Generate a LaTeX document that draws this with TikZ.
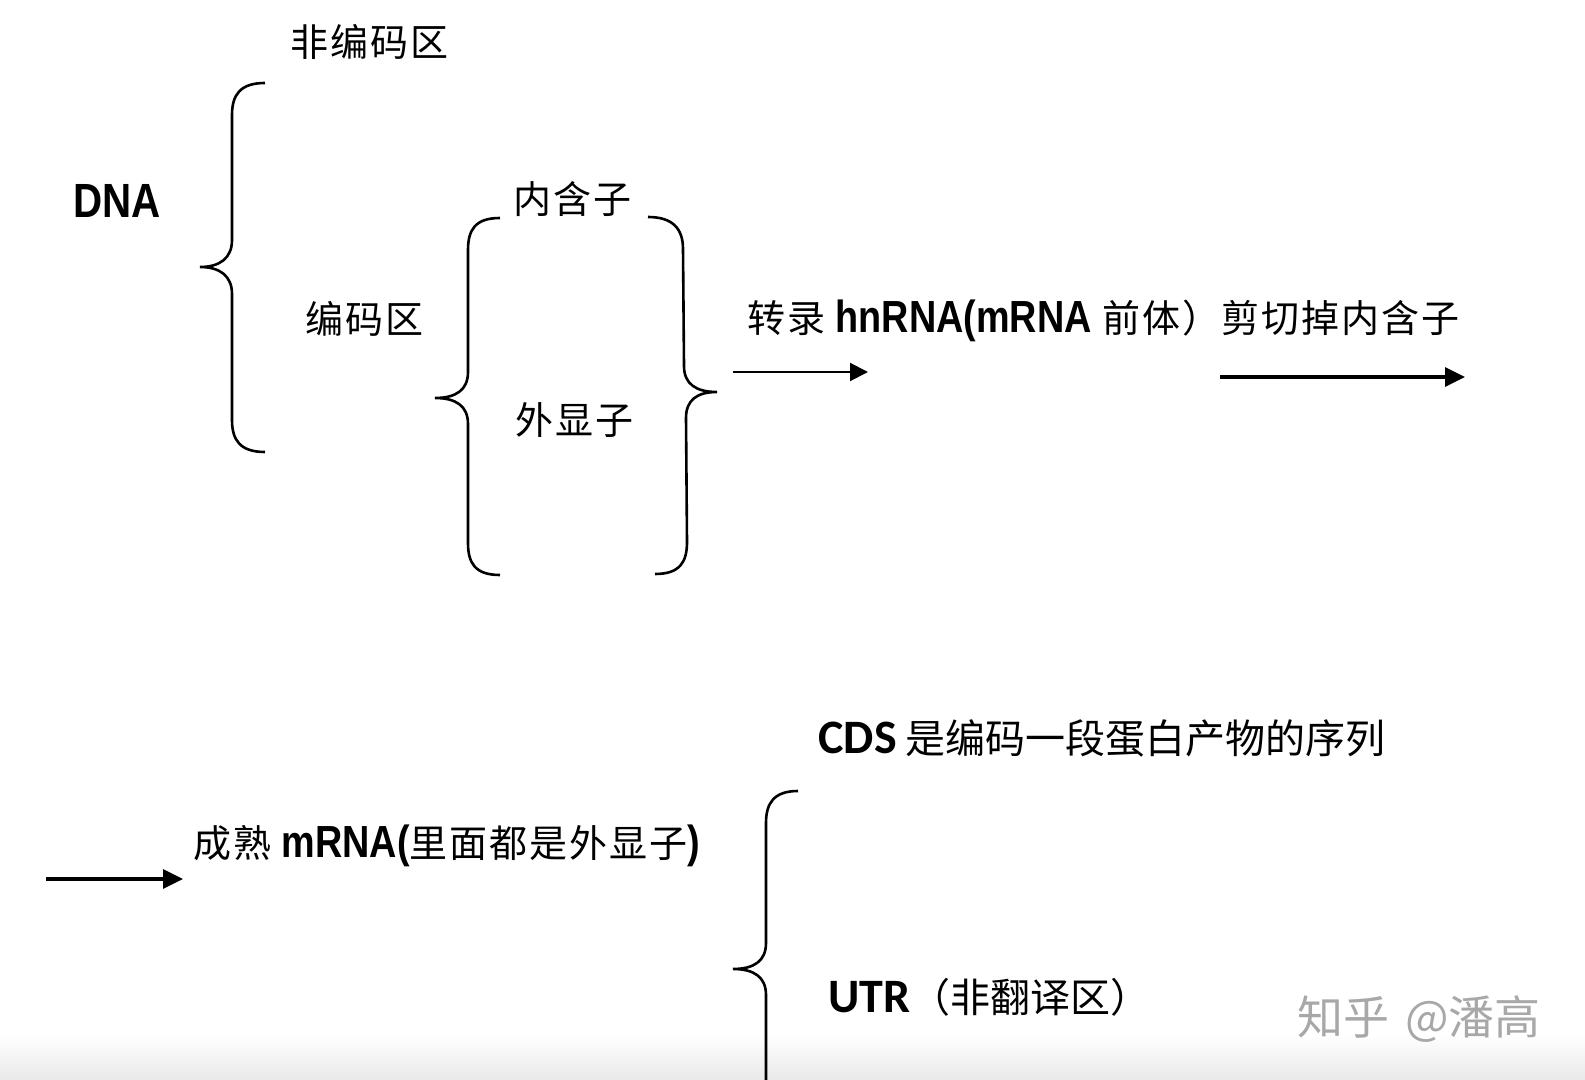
\documentclass[tikz,border=0pt]{standalone}
\usepackage{fontspec}
\usepackage{tikz}
\usetikzlibrary{arrows.meta}
\setmainfont{Noto Sans CJK SC}
\newfontfamily\cjk[LetterSpace=5]{Noto Sans CJK SC}
\newfontfamily\cjkb{Noto Sans CJK SC}
\newfontfamily\arialb[FakeStretch=0.84]{Liberation Sans Bold}
\newfontfamily\calibb{Carlito}
\newcommand{\latb}[1]{{\arialb\fontsize{22.5pt}{22.5pt}\selectfont #1}}
\newcommand{\calb}[1]{{\calibb\bfseries\fontsize{24pt}{24pt}\selectfont #1}}
\definecolor{markgray}{RGB}{168,168,168}
\tikzset{
  txt/.style={inner sep=0pt, anchor=base west, font=\cjk\fontsize{19pt}{19pt}\selectfont},
  txtb/.style={txt, font=\cjkb\fontsize{20pt}{20pt}\selectfont},
  brace/.style={line width=1.3pt},
  arr/.style={line width=1pt, -{Triangle[length=9pt,width=9pt]}},
  arrthick/.style={line width=1.6pt, -{Triangle[length=10pt,width=9.5pt]}}
}

\begin{document}
\begin{tikzpicture}[x=0.5pt,y=-0.5pt]
\useasboundingbox (0,0) rectangle (1585,1080);
\shade[top color=white, bottom color=black!9] (0,1035) rectangle (1585,1080);
% DNA
\node[txt] (dna) at (73,218) {\latb{\fontsize{24pt}{24pt}\selectfont DNA}};
\node[txt] (nc) at (290,57) {非编码区};
\node[txt] (cod) at (305,334) {编码区};
\draw[brace] (265,83) .. controls (240,83) and (232,95) .. (232,115) -- (232,240)
  .. controls (232,258) and (220,267) .. (200,267)
  .. controls (220,267) and (232,276) .. (232,294) -- (232,420)
  .. controls (232,440) and (240,452) .. (265,452);
% intron / exon
\node[txt] (intr) at (513,214) {内含子};
\node[txt] (exon) at (515,435) {外显子};
\draw[brace] (500,218) .. controls (475,218) and (468,230) .. (468,250) -- (468,372)
  .. controls (468,390) and (456,398) .. (435,398)
  .. controls (456,398) and (468,406) .. (468,424) -- (468,543)
  .. controls (468,563) and (475,575) .. (500,575);
\draw[brace] (648,217) .. controls (673,217) and (683,229) .. (683,249) -- (684,366)
  .. controls (684,384) and (696,392) .. (717,392)
  .. controls (697,392) and (686,400) .. (686,418) -- (687,542)
  .. controls (687,562) and (680,574) .. (655,574);
% transcription
\node[txt] (hn) at (747,333) {转录 \latb{hnRNA(mRNA} 前体）剪切掉内含子};
\coordinate (a1s) at (733,372);
\coordinate (a1e) at (868,372);
\draw[arr] (a1s) -- (a1e);
\coordinate (a2s) at (1220,377);
\coordinate (a2e) at (1465,377);
\draw[arrthick] (a2s) -- (a2e);
% mature mRNA
\coordinate (a3s) at (46,879);
\coordinate (a3e) at (183,879);
\draw[arrthick] (a3s) -- (a3e);
\node[txt] (mat) at (193,857) {成熟 \latb{mRNA(}里面都是外显子\latb{)}};
\node[txtb] (cds) at (818,753) {\calb{CDS} 是编码一段蛋白产物的序列};
\node[txtb] (utr) at (828,1012) {\calb{UTR}（非翻译区）};
\draw[brace] (798,791) .. controls (774,791) and (766,803) .. (766,823) -- (766,943)
  .. controls (766,961) and (754,969) .. (733,969)
  .. controls (754,969) and (766,977) .. (766,995) -- (766,1085);
% watermark
\node[txt, text=markgray, font=\cjkb\fontsize{23pt}{23pt}\selectfont] (mark) at (1297,1034) {知乎\hspace{8pt}@潘高};
\end{tikzpicture}
\end{document}
